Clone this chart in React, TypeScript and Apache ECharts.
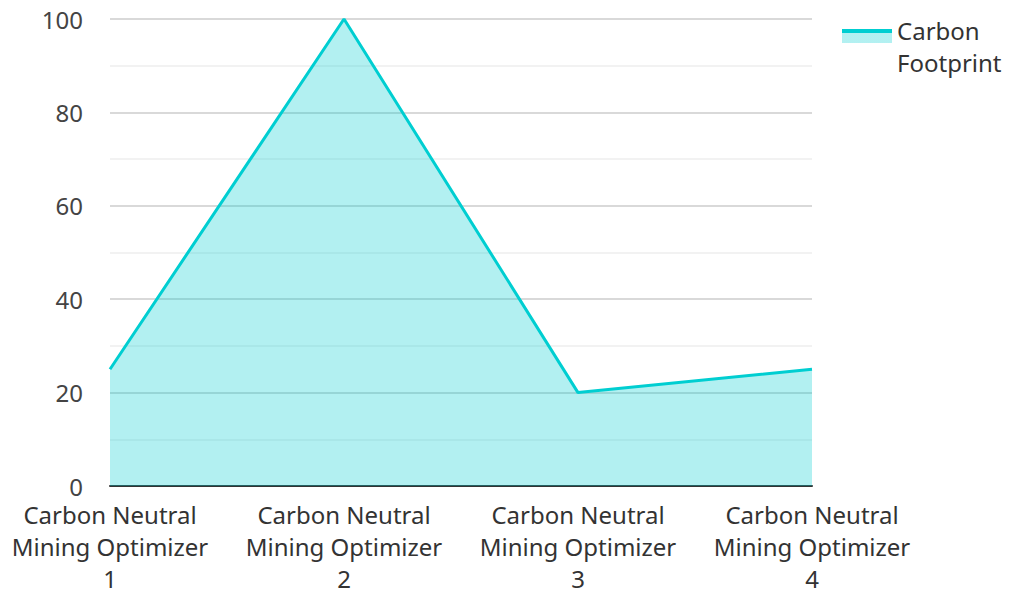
import React, { useEffect, useRef } from "react";
import * as echarts from "echarts";

const categories = [
  "Carbon Neutral Mining Optimizer 1",
  "Carbon Neutral Mining Optimizer 2",
  "Carbon Neutral Mining Optimizer 3",
  "Carbon Neutral Mining Optimizer 4",
];
const carbonFootprint = [25, 100, 20, 25];
const seriesName = "Carbon Footprint";

export default function App() {
  const ref = useRef<HTMLDivElement>(null);
  useEffect(() => {
    if (!ref.current) return;
    const chart = echarts.init(ref.current, undefined, { renderer: "svg" });
    const font = "Noto Sans";
    const teal = "#00CED1";
    const light = "rgba(0,206,209,0.3)";
    const clear = "rgba(0,0,0,0)";
    chart.setOption({
      animation: false,
      textStyle: { fontFamily: font },
      grid: {
        left: 110,
        right: 197,
        top: 19,
        bottom: 103,
        outerBoundsMode: "none",
        containLabel: false,
      },
      legend: {
        left: 837,
        top: 9,
        orient: "vertical",
        icon: "rect",
        itemWidth: 50,
        itemHeight: 46,
        itemGap: 10,
        data: [seriesName],
        formatter: () => "Carbon\nFootprint",
        itemStyle: {
          color: new echarts.graphic.LinearGradient(0, 0, 0, 1, [
            { offset: 0, color: clear },
            { offset: 0.13, color: clear },
            { offset: 0.13, color: teal },
            { offset: 0.217, color: teal },
            { offset: 0.217, color: light },
            { offset: 0.435, color: light },
            { offset: 0.435, color: clear },
            { offset: 1, color: clear },
          ]),
          borderWidth: 0,
        },
        textStyle: { fontSize: 24, color: "#333", lineHeight: 32, fontFamily: font },
      },
      xAxis: {
        type: "category",
        boundaryGap: false,
        data: categories,
        axisLine: { lineStyle: { color: "#333", width: 2 } },
        axisTick: { show: false },
        axisLabel: {
          fontSize: 24,
          color: "#333",
          lineHeight: 32,
          margin: 12,
          interval: 0,
          formatter: (v: string) => {
            const m = v.match(/^(Carbon Neutral) (Mining Optimizer) (\d+)$/);
            return m ? `${m[1]}\n${m[2]}\n${m[3]}` : v;
          },
        },
      },
      yAxis: {
        type: "value",
        min: 0,
        max: 100,
        interval: 20,
        axisLabel: { fontSize: 24, color: "#444", margin: 27 },
        axisLine: { show: false },
        axisTick: { show: false },
        splitLine: { lineStyle: { color: "#ccc", width: 1.5 } },
        minorTick: { show: false, splitNumber: 2 },
        minorSplitLine: { show: true, lineStyle: { color: "#eee", width: 1.5 } },
      },
      series: [
        {
          name: seriesName,
          type: "line",
          data: carbonFootprint,
          symbol: "none",
          lineStyle: { color: teal, width: 3 },
          itemStyle: { color: teal },
          areaStyle: { color: teal, opacity: 0.3 },
        },
      ],
    });
    return () => chart.dispose();
  }, []);
  return (
    <div
      ref={ref}
      style={{ position: "absolute", left: 0, top: 0, width: 1009, height: 589 }}
    />
  );
}
